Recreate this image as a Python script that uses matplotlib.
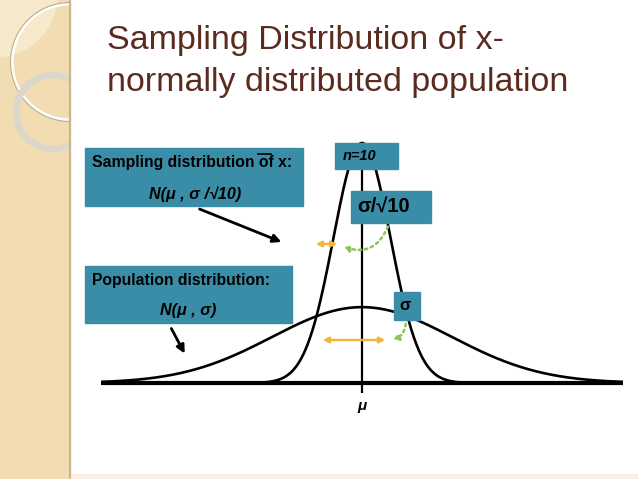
import numpy as np
import matplotlib
matplotlib.use("Agg")
import matplotlib.pyplot as plt
from matplotlib.patches import Rectangle, Circle, FancyArrowPatch

plt.rcParams['font.family'] = ['Liberation Sans', 'DejaVu Sans']

# distribution parameters
mu = 0.0
sigma = 1.0
n = 10
z_range = [-2.9, 2.9]

title_lines = ["Sampling Distribution of x-", "normally distributed population"]
box_texts = {
    "sampling": ["Sampling distribution of x:", "N(\u03bc , \u03c3 /\u221a10)"],
    "population": ["Population distribution:", "N(\u03bc , \u03c3)"],
}
label_n = "n=10"
label_se = "\u03c3/\u221a10"
label_sd = "\u03c3"
label_mu = "\u03bc"

W, H = 638, 479
teal = '#3A8DA6'
brown = '#5B2B1F'
orange = '#F3B53C'
green = '#8CC45A'

fig = plt.figure(figsize=(W / 100, H / 100), dpi=100)

# background in pixel coordinates
bg = fig.add_axes([0, 0, 1, 1], zorder=0)
bg.set_xlim(0, W)
bg.set_ylim(H, 0)
bg.axis('off')
bg.add_patch(Rectangle((0, 0), 70, H, color='#F2DDB2', zorder=1))
bg.plot([70, 70], [0, H], color='#C8B58F', lw=1.5, zorder=3)
bg.add_patch(Rectangle((70, 474), W - 70, 5, color='#FBEDE3', zorder=1))
clip = Rectangle((0, 0), 70, H, transform=bg.transData)
leaf = Circle((-5, -5), 62, color='#F6E9CC', zorder=1)
c1 = Circle((70, 62), 58, fill=False, ec='#FFFFFF', lw=2.2, zorder=2)
c1b = Circle((70, 62), 59.5, fill=False, ec='#B9AC93', lw=0.8, zorder=2)
c2 = Circle((53, 112), 37, fill=False, ec='#DCD6CB', lw=5, zorder=2)
for c in (leaf, c1, c1b, c2):
    bg.add_patch(c)
    c.set_clip_path(clip)

for i, line in enumerate(title_lines):
    bg.text(107, 40 + i * 42, line, fontsize=24.5, color=brown,
            va='center', ha='left')

# curves
z = np.linspace(z_range[0], z_range[1], 600)
pop = np.exp(-0.5 * ((z - mu) / sigma) ** 2) / (sigma * np.sqrt(2 * np.pi))
se = sigma / np.sqrt(n)
samp = np.exp(-0.5 * ((z - mu) / se) ** 2) / (se * np.sqrt(2 * np.pi))

px_per_sigma = 90.0
px_per_unit = 190.2
left_px, right_px = 362 + z_range[0] * px_per_sigma, 362 + z_range[1] * px_per_sigma
ytop, ybot = 1.3, -0.05
top_px = 383 - ytop * px_per_unit
bot_px = 383 - ybot * px_per_unit
ax = fig.add_axes([left_px / W, (H - bot_px) / H, (right_px - left_px) / W,
                   (bot_px - top_px) / H], zorder=1)
ax.set_xlim(z_range)
ax.set_ylim(ybot, ytop)
ax.patch.set_alpha(0)
ax.axis('off')
ax.plot(z, pop, color='black', lw=1.9)
ax.plot(z, samp, color='black', lw=1.9)
ax.plot([mu, mu], [ybot, samp.max()], color='black', lw=1.6)
ax.plot(z_range, [0, 0], color='black', lw=3, solid_capstyle='butt')

# overlay: boxes, labels, arrows
ov = fig.add_axes([0, 0, 1, 1], zorder=2)
ov.set_xlim(0, W)
ov.set_ylim(H, 0)
ov.axis('off')
ov.patch.set_alpha(0)

ov.add_patch(Rectangle((85, 148), 218, 58, color=teal))
ov.add_patch(Rectangle((85, 266), 207, 57, color=teal))
ov.add_patch(Rectangle((335, 143), 63, 26, color=teal))
ov.add_patch(Rectangle((351, 191), 80, 32, color=teal))
ov.add_patch(Rectangle((394, 292), 26, 28, color=teal))

ov.text(92, 163, box_texts["sampling"][0], fontsize=11.3, weight='bold', va='center')
ov.plot([258, 271], [153.5, 153.5], color='black', lw=1.2)
ov.text(195, 194, box_texts["sampling"][1], fontsize=11.6, weight='bold',
        style='italic', ha='center', va='center')
ov.text(92, 280, box_texts["population"][0], fontsize=11.3, weight='bold', va='center')
ov.text(188, 311, box_texts["population"][1], fontsize=11.6, weight='bold',
        style='italic', ha='center', va='center')
ov.text(360, 156, label_n, fontsize=10.5, weight='bold', style='italic',
        ha='center', va='center')
ov.text(384, 207, label_se, fontsize=14.5, weight='bold', ha='center', va='center')
ov.text(405, 306, label_sd, fontsize=12, weight='bold', ha='center', va='center')
ov.text(362, 406, label_mu, fontsize=11, weight='bold', style='italic',
        ha='center', va='center')

for (x0, y0), (x1, y1) in [((197, 208), (284, 243)), ((170, 326), (186, 356))]:
    ov.add_patch(FancyArrowPatch((x0, y0), (x1, y1), arrowstyle='-|>',
                                 mutation_scale=12, color='black', lw=2))

for (x0, x1, y) in [(313, 340, 244), (320, 388, 340)]:
    ov.add_patch(FancyArrowPatch((x0, y), (x1, y), arrowstyle='<|-|>',
                                 mutation_scale=8, color=orange, lw=1.8))

for (p0, p1, rad) in [((389, 224), (341, 246), -0.5), ((406, 321), (390, 340), -0.4)]:
    ov.add_patch(FancyArrowPatch(p0, p1, arrowstyle='-|>', mutation_scale=8,
                                 connectionstyle=f'arc3,rad={rad}', color=green,
                                 lw=1.8, linestyle=(0, (1, 1.5))))

fig.savefig('out.png', dpi=100)
